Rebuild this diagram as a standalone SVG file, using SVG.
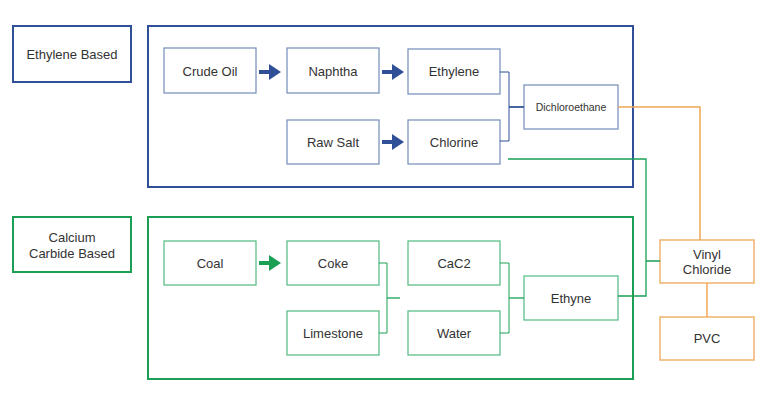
<svg xmlns="http://www.w3.org/2000/svg" width="768" height="415" viewBox="0 0 768 415">
<style>
text{font-family:"Liberation Sans",Arial,sans-serif;font-size:13px;fill:#333;text-anchor:middle;dominant-baseline:central}
.b{fill:#fff;stroke:#7e95bd;stroke-width:1.3}
.g{fill:#fff;stroke:#5cbf8a;stroke-width:1.3}
.o{fill:#fff;stroke:#f0b26e;stroke-width:1.5}
.bl{fill:none;stroke:#2f4f96}
.gl{fill:none;stroke:#1a9f55}
.ol{fill:none;stroke:#f0a656;stroke-width:1.5}
</style>
<defs>
<marker id="ab" markerWidth="4" markerHeight="4" refX="2" refY="2" orient="auto" markerUnits="strokeWidth"><path d="M0,0L3,2L0,4z" fill="#2f4f96"/></marker>
<marker id="ag" markerWidth="4" markerHeight="4" refX="2" refY="2" orient="auto" markerUnits="strokeWidth"><path d="M0,0L3,2L0,4z" fill="#1a9f55"/></marker>
</defs>
<rect width="768" height="415" fill="#fff"/>
<g id="eth-group"><rect x="148" y="26" width="485" height="161" fill="none" stroke="#2f4f96" stroke-width="2"/></g>
<g id="cal-group"><rect x="148" y="217" width="485" height="162" fill="none" stroke="#1a9f55" stroke-width="2"/></g>
<g id="eth-label"><rect x="13" y="26" width="118" height="56" fill="#fff" stroke="#2f4f96" stroke-width="2"/><text x="72" y="54">Ethylene Based</text></g>
<g id="cal-label"><rect x="13" y="217" width="118" height="55" fill="#fff" stroke="#1a9f55" stroke-width="2"/><text x="72" y="237">Calcium</text><text x="72" y="253">Carbide Based</text></g>
<g id="crude"><rect class="b" x="164" y="48" width="92" height="45"/><text x="210" y="71">Crude Oil</text></g>
<g id="naphtha"><rect class="b" x="287" y="48" width="92" height="45"/><text x="333" y="71">Naphtha</text></g>
<g id="ethylene"><rect class="b" x="408" y="49" width="92" height="45"/><text x="454" y="71">Ethylene</text></g>
<g id="rawsalt"><rect class="b" x="287" y="120" width="92" height="44"/><text x="333" y="142">Raw Salt</text></g>
<g id="chlorine"><rect class="b" x="408" y="120" width="92" height="44"/><text x="454" y="142">Chlorine</text></g>
<g id="dce"><rect class="b" x="524" y="85" width="94" height="44"/><text x="571" y="107" style="font-size:10.5px">Dichloroethane</text></g>
<g id="coal"><rect class="g" x="164" y="241" width="92" height="44"/><text x="210" y="263">Coal</text></g>
<g id="coke"><rect class="g" x="287" y="241" width="92" height="44"/><text x="333" y="263">Coke</text></g>
<g id="limestone"><rect class="g" x="287" y="311" width="92" height="44"/><text x="333" y="333">Limestone</text></g>
<g id="cac2"><rect class="g" x="408" y="241" width="92" height="44"/><text x="454" y="263">CaC2</text></g>
<g id="water"><rect class="g" x="408" y="311" width="92" height="44"/><text x="454" y="333">Water</text></g>
<g id="ethyne"><rect class="g" x="524" y="276" width="94" height="44"/><text x="571" y="298">Ethyne</text></g>
<g id="vinyl"><rect class="o" x="660" y="240" width="94" height="43"/><text x="707" y="254">Vinyl</text><text x="707" y="269">Chloride</text></g>
<g id="pvc"><rect class="o" x="660" y="317" width="94" height="43"/><text x="707" y="338">PVC</text></g>
<g id="connectors">
<line class="bl" x1="259" y1="72" x2="277" y2="72" stroke-width="4" marker-end="url(#ab)"/>
<line class="bl" x1="382" y1="72" x2="400" y2="72" stroke-width="4" marker-end="url(#ab)"/>
<line class="bl" x1="382" y1="142" x2="400" y2="142" stroke-width="4" marker-end="url(#ab)"/>
<path class="bl" d="M500,72H509V141H500M509,107H524" stroke="#7e95bd"/>
<path class="bl" d="M509,107H524" stroke-width="1.5"/>
<line class="gl" x1="259" y1="263" x2="277" y2="263" stroke-width="4" marker-end="url(#ag)"/>
<path class="gl" d="M379,263H387V333H379" stroke="#5cbf8a"/>
<path class="gl" d="M387,298H400" stroke-width="1.3"/>
<path class="gl" d="M500,263H509V333H500" stroke="#5cbf8a"/>
<path class="gl" d="M509,298H524" stroke-width="1.3"/>
<path class="gl" d="M508,159H646V296H618M646,261H660" stroke-width="1.3"/>
<path class="ol" d="M618,107H700V240"/>
<path class="ol" d="M707,283V317" stroke-width="2"/>
</g>
</svg>
